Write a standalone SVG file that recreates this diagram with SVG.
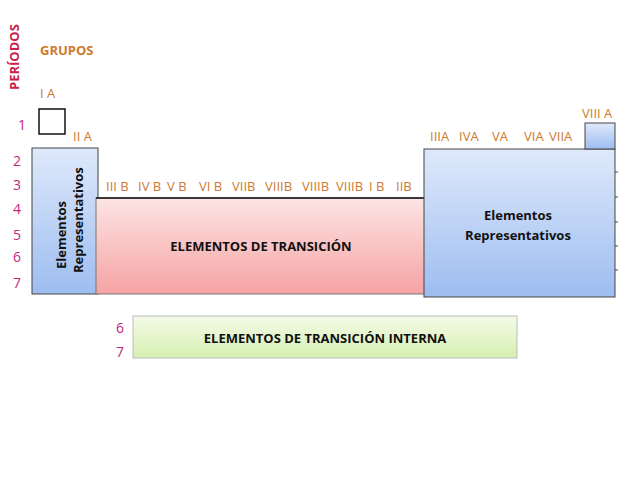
<svg xmlns="http://www.w3.org/2000/svg" width="638" height="479" viewBox="0 0 638 479">
<defs>
<linearGradient id="blue" x1="0" y1="0" x2="0" y2="1"><stop offset="0" stop-color="#dfe9fb"/><stop offset="1" stop-color="#9dbdf0"/></linearGradient>
<linearGradient id="pink" x1="0" y1="0" x2="0" y2="1"><stop offset="0" stop-color="#fde4e4"/><stop offset="1" stop-color="#f5a3a3"/></linearGradient>
<linearGradient id="green" x1="0" y1="0" x2="0" y2="1"><stop offset="0" stop-color="#f4fbe8"/><stop offset="1" stop-color="#d6efb0"/></linearGradient>
<style>
text{font-family:"Open Sans","Liberation Sans",sans-serif}
.g{fill:#cc7a2e;font-size:13px}
.p{fill:#c0287a;font-size:14px}
.b{font-weight:bold;font-size:13px;fill:#111}
</style>
</defs>
<text transform="translate(19,90) rotate(-90)" style="fill:#c8204a;font-weight:bold;font-size:13px">PERÍODOS</text>
<text x="40" y="55" style="fill:#cc7a2e;font-weight:bold;font-size:13px">GRUPOS</text>
<g id="periods">
<text class="p" x="18" y="130">1</text><text class="p" x="13" y="166">2</text><text class="p" x="13" y="190">3</text><text class="p" x="13" y="214">4</text><text class="p" x="13" y="240">5</text><text class="p" x="13" y="262">6</text><text class="p" x="13" y="288">7</text>
<text class="p" x="116" y="333">6</text><text class="p" x="116" y="357">7</text>
</g>
<g id="labels">
<text class="g" x="40" y="98">I A</text>
<text class="g" x="73" y="141">II A</text>
<g class="g">
<text class="g" x="106" y="191">III B</text><text class="g" x="138" y="191">IV B</text><text class="g" x="167" y="191">V B</text><text class="g" x="199" y="191">VI B</text><text class="g" x="232" y="191">VIIB</text><text class="g" x="265" y="191">VIIIB</text><text class="g" x="302" y="191">VIIIB</text><text class="g" x="336" y="191">VIIIB</text><text class="g" x="369" y="191">I B</text><text class="g" x="396" y="191">IIB</text>
</g>
<text class="g" x="430" y="141">IIIA</text><text class="g" x="459" y="141">IVA</text><text class="g" x="492" y="141">VA</text><text class="g" x="524" y="141">VIA</text><text class="g" x="549" y="141">VIIA</text>
<text class="g" x="582" y="118">VIII A</text>
</g>
<g id="ia"><rect x="39" y="109" width="26" height="25" fill="#fff" stroke="#111" stroke-width="1.5"/></g>
<g id="rep-left">
<rect x="32" y="148" width="66" height="146" fill="url(#blue)" stroke="#444"/>
<text class="b" transform="translate(66,269) rotate(-90)">Elementos</text>
<text class="b" transform="translate(83,273) rotate(-90)">Representativos</text>
</g>
<g id="transicion">
<rect x="96" y="198" width="329" height="96" fill="url(#pink)" stroke="#777"/>
<line x1="96" y1="198" x2="425" y2="198" stroke="#111" stroke-width="1.5"/>
<text class="b" x="261" y="251" text-anchor="middle">ELEMENTOS DE TRANSICIÓN</text>
</g>
<g id="rep-right">
<rect x="424" y="149" width="191" height="148" fill="url(#blue)" stroke="#444"/>
<rect x="585" y="123" width="30" height="26" fill="url(#blue)" stroke="#444"/>
<g stroke="#444"><line x1="615" y1="172" x2="618" y2="172"/><line x1="615" y1="197" x2="618" y2="197"/><line x1="615" y1="222" x2="618" y2="222"/><line x1="615" y1="246" x2="618" y2="246"/><line x1="615" y1="270" x2="618" y2="270"/></g>
<text class="b" x="518" y="220" text-anchor="middle">Elementos</text>
<text class="b" x="518" y="240" text-anchor="middle">Representativos</text>
</g>
<g id="interna">
<rect x="133" y="316" width="384" height="42" fill="url(#green)" stroke="#bbb"/>
<text class="b" x="325" y="343" text-anchor="middle">ELEMENTOS DE TRANSICIÓN INTERNA</text>
</g>
<g id="connectors"/>
</svg>
